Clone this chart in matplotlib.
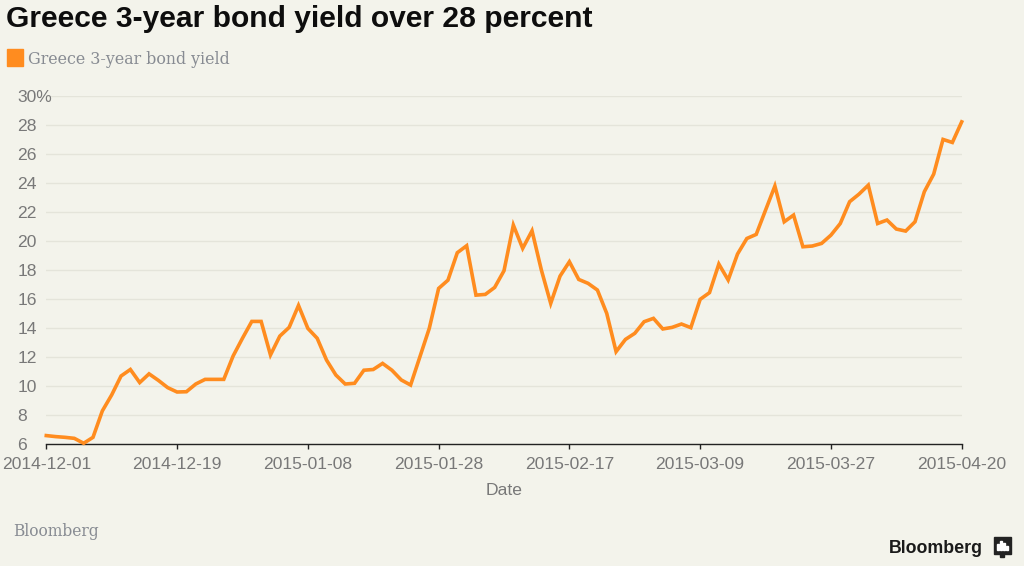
import numpy as np
import matplotlib.pyplot as plt
from matplotlib.patches import Rectangle

# Greece 3-year bond yield, one value per trading day (2014-12-01 .. 2015-04-20)
yields = [6.60, 6.53, 6.48, 6.41, 6.07, 6.48, 8.3, 9.4, 10.7, 11.15,
          10.25, 10.85, 10.4, 9.9, 9.6, 9.62, 10.15, 10.47, 10.47, 10.47,
          12.08, 13.3, 14.46, 14.46, 12.15, 13.45, 14.05, 15.56, 13.98, 13.3,
          11.8, 10.77, 10.15, 10.2, 11.1, 11.15, 11.57, 11.1, 10.43, 10.08,
          12.03, 13.98, 16.73, 17.3, 19.19, 19.67, 16.27, 16.32, 16.8, 17.95,
          21.09, 19.49, 20.7, 18.0, 15.7, 17.58, 18.57, 17.35, 17.08, 16.62,
          15.01, 12.38, 13.22, 13.64, 14.44, 14.67, 13.94, 14.05, 14.28, 14.03,
          15.98, 16.44, 18.41, 17.31, 19.1, 20.17, 20.45, 22.12, 23.78, 21.32,
          21.78, 19.6, 19.65, 19.83, 20.4, 21.2, 22.7, 23.22, 23.84, 21.2,
          21.44, 20.82, 20.68, 21.32, 23.39, 24.6, 26.99, 26.78, 28.2]
date_labels = ['2014-12-01', '2014-12-19', '2015-01-08', '2015-01-28',
               '2015-02-17', '2015-03-09', '2015-03-27', '2015-04-20']
y_ticks = [6, 8, 10, 12, 14, 16, 18, 20, 22, 24, 26, 28, 30]
y_labels = ['6', '8', '10', '12', '14', '16', '18', '20', '22', '24', '26', '28', '30%']

bg = '#f3f3eb'
orange = '#ff8c1f'
grey = '#787878'

W, H = 1024, 566
fig = plt.figure(figsize=(W / 100, H / 100), dpi=100, facecolor=bg)
ax = fig.add_axes([46.3 / W, 1 - 444.3 / H, 915.4 / W, 348.6 / H])
ax.set_facecolor(bg)

x = np.arange(len(yields))
ax.plot(x, yields, color=orange, lw=2.6, clip_on=False, zorder=3,
        solid_joinstyle='miter')

ax.set_xlim(0, len(yields) - 1)
ax.set_ylim(6, 30)
ax.set_xticks(np.arange(0, len(yields), 14))
ax.set_xticklabels(date_labels, family='Liberation Sans', fontsize=12.6, color=grey)
ax.set_yticks(y_ticks)
ax.set_yticklabels(y_labels, family='Liberation Sans', fontsize=12.6, color=grey)
for lab in ax.get_yticklabels():
    lab.set_horizontalalignment('left')

ax.tick_params(axis='y', length=0, pad=21)
ax.tick_params(axis='x', length=3.6, width=1, color='#222222', pad=5.5)
for s in ['top', 'right', 'left']:
    ax.spines[s].set_visible(False)
ax.spines['bottom'].set_color('#222222')
ax.spines['bottom'].set_linewidth(1)
ax.yaxis.grid(True, color='#e4e4da', lw=1)
ax.set_axisbelow(True)
ax.set_xlabel('Date', family='Liberation Sans', fontsize=12.6, color=grey, labelpad=8)

# title and legend
fig.text(6 / W, 1 - 27 / H, 'Greece 3-year bond yield over 28 percent',
         family='Liberation Sans', weight='bold', fontsize=21.6, color='#0d0d0d',
         va='baseline')
fig.patches.append(Rectangle((7 / W, 1 - 66 / H), 16 / W, 17 / H,
                             transform=fig.transFigure, color=orange))
fig.text(28 / W, 1 - 64 / H, 'Greece 3-year bond yield', family='DejaVu Serif',
         fontsize=11.4, color='#878b92', va='baseline')

# source and logo
fig.text(13 / W, 1 - 536 / H, 'Bloomberg', family='DejaVu Serif',
         fontsize=11.2, color='#878b92', va='baseline')
fig.text(983 / W, 1 - 553 / H, 'Bloomberg', family='Liberation Sans', weight='bold',
         fontsize=12.8, color='#1a1a1a', va='baseline', ha='right')
fig.patches.append(Rectangle((994 / W, 1 - 554 / H), 17 / W, 17 / H,
                             transform=fig.transFigure, color='#222222'))
fig.patches.append(Rectangle((1000 / W, 1 - 557 / H), 4 / W, 3 / H,
                             transform=fig.transFigure, color='#222222'))
for i, h in enumerate([6, 9, 7, 4]):
    fig.patches.append(Rectangle(((997 + 3 * i) / W, 1 - 550 / H), 1.7 / W, h / H,
                                 transform=fig.transFigure, color='white'))

fig.savefig('out.png', dpi=100, facecolor=bg)
